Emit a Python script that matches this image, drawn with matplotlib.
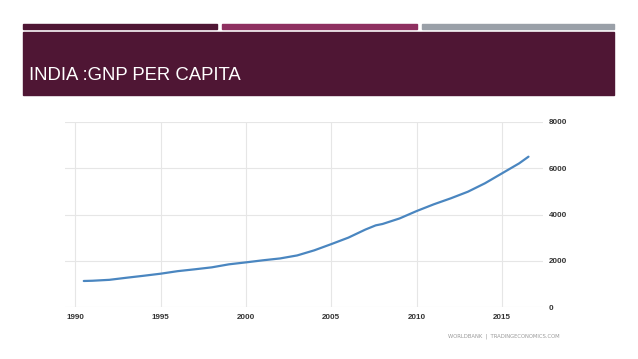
import matplotlib
matplotlib.use("Agg")
import matplotlib.pyplot as plt
from matplotlib.patches import Rectangle

years = [1990.5, 1991, 1992, 1993, 1994, 1995, 1996, 1997, 1998, 1999, 2000,
         2001, 2002, 2003, 2004, 2005, 2006, 2007, 2007.6, 2008, 2009, 2010,
         2011, 2012, 2013, 2014, 2015, 2016, 2016.55]
gnp = [1125, 1135, 1175, 1265, 1350, 1440, 1550, 1630, 1715, 1845, 1930,
       2020, 2100, 2230, 2450, 2720, 3000, 3350, 3530, 3590, 3830, 4150,
       4440, 4700, 4985, 5350, 5780, 6210, 6500]
xticks = [1990, 1995, 2000, 2005, 2010, 2015]
yticks = [0, 2000, 4000, 6000, 8000]
title = "INDIA :GNP PER CAPITA"
source = "WORLDBANK  |  TRADINGECONOMICS.COM"

W, H = 638, 359
fig = plt.figure(figsize=(W / 100, H / 100), dpi=100)
fig.patch.set_facecolor("white")

def px_rect(x0, y0, x1, y1, color):
    fig.patches.append(Rectangle((x0 / W, 1 - y1 / H), (x1 - x0) / W, (y1 - y0) / H,
                                 transform=fig.transFigure, color=color, zorder=0))

px_rect(23, 24, 217, 29, "#4f1634")
px_rect(222, 24, 417, 29, "#8e3060")
px_rect(422, 24, 614, 29, "#9aa0a8")
px_rect(23, 32, 614, 95, "#4f1634")
fig.text(29 / W, 1 - 75 / H, title, color="white", fontsize=13.3,
         family="Liberation Sans", va="center", ha="left")

ax = fig.add_axes([65 / W, 1 - 307 / H, (543 - 65) / W, (307 - 122) / H])
ax.plot(years, gnp, color="#4a86c0", lw=1.6, solid_capstyle="round")
ax.set_xlim(1989.4, 2017.4)
ax.set_ylim(0, 8000)
ax.set_xticks(xticks)
ax.set_yticks(yticks)
ax.yaxis.tick_right()
ax.grid(True, color="#e6e6e6", lw=0.8)
ax.set_axisbelow(True)
for s in ax.spines.values():
    s.set_visible(False)
ax.tick_params(length=0, labelsize=5.8, labelcolor="#333333")
ax.tick_params(axis="x", pad=5)
ax.tick_params(axis="y", pad=4)
for lab in ax.get_xticklabels() + ax.get_yticklabels():
    lab.set_fontweight("bold")
    lab.set_family("Liberation Sans")

fig.text(448 / W, 1 - 336 / H, source, color="#9a9a9a", fontsize=3.8,
         va="center", ha="left")

fig.savefig("out.png", dpi=100)
